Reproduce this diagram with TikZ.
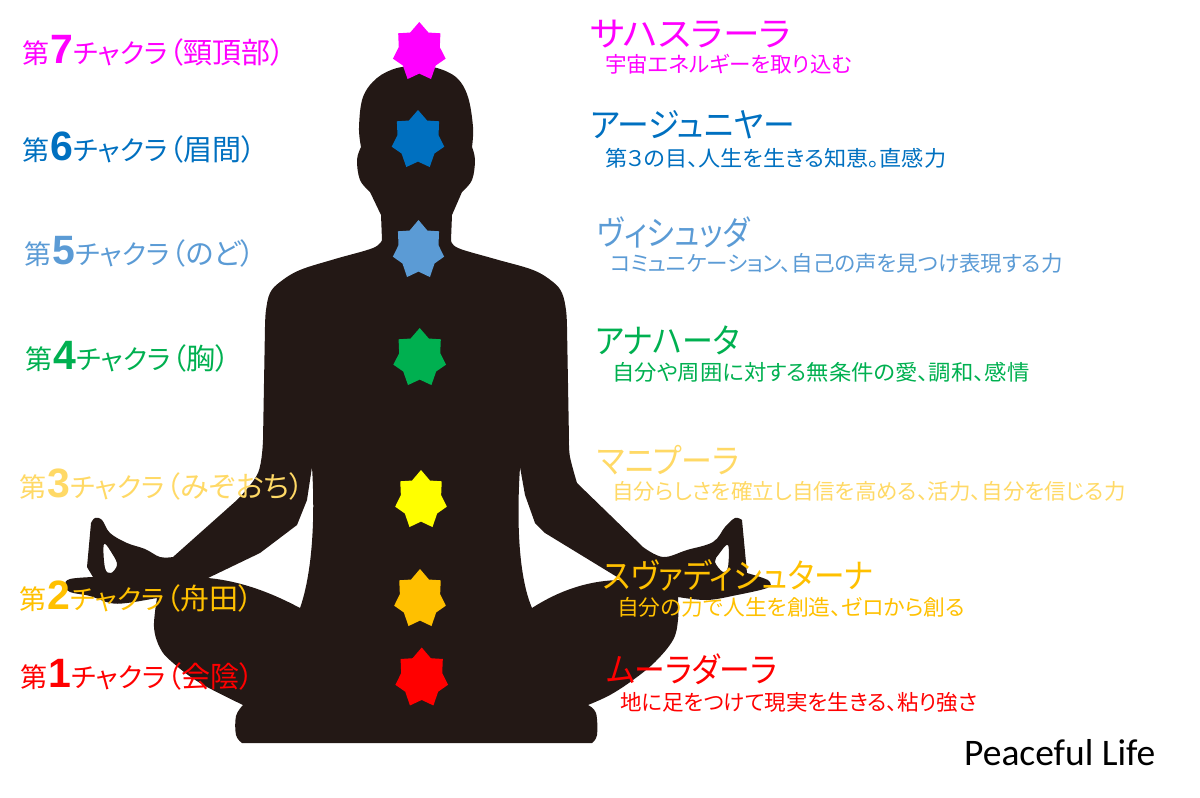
\documentclass[tikz,border=0pt]{standalone}
\usepackage{graphicx}
\usepackage{fontspec}
\setmainfont[RawFeature=+palt]{Noto Sans CJK JP}
\newfontfamily\latinface{Carlito}
\newfontfamily\digitface{Liberation Sans}
\definecolor{silh}{HTML}{231815}
\definecolor{cmag}{HTML}{FF00FF}
\definecolor{cblue}{HTML}{0070C0}
\definecolor{clblue}{HTML}{5B9BD5}
\definecolor{cgreen}{HTML}{00B050}
\definecolor{cpale}{HTML}{FFD966}
\definecolor{cyel}{HTML}{FFFF00}
\definecolor{corg}{HTML}{FFC000}
\definecolor{cred}{HTML}{FF0000}
\newcommand\chakra[5]{%
\begin{scope}[shift={(#1,#2)},x=#3pt,y=#4pt]
\fill[#5] (90:1)--(115.71:.78 and .72)--(141.43:1)--(167.14:.78 and .72)--(192.86:1)--(218.57:.78 and .72)--(244.29:1)--(270:.78 and .72)--(295.71:1)--(321.43:.78 and .72)--(347.14:1)--(12.86:.78 and .72)--(38.57:1)--(64.29:.78 and .72)--cycle;
\end{scope}}
\newcommand\bigdigit[1]{\hspace{1pt}{\digitface\fontsize{41}{41}\selectfont\bfseries #1}}
\newcommand\parenpart[1]{\hspace{1.5pt}{\fontsize{29}{29}\selectfont（#1）}}
\newcommand\stretchw[2]{\scalebox{#1}[1]{#2}}
\tikzset{
  lefttext/.style={anchor=base west,inner sep=0pt,font=\fontsize{27}{27}\selectfont},
  titletext/.style={anchor=base west,inner sep=0pt,font=\fontsize{34}{34}\selectfont},
  subtext/.style={anchor=base west,inner sep=0pt,font=\fontsize{21.5}{21.5}\selectfont}
}
\begin{document}
\begin{tikzpicture}[x=1pt,y=-1pt]
\useasboundingbox (0,0) rectangle (1200,798);
% silhouette
\fill[silh,even odd rule]
 plot[smooth,tension=.6] coordinates {(361,147)(359,127)(363,97)(377,78)(397,68)(417,66.5)(437,68)(457,78)(468,97)(473,127)(472,147)}
 -- plot[smooth,tension=.6] coordinates {(472,147)(475,160)(472,180)(462,192)}
 -- (452,215) -- (451,240)
 -- plot[smooth,tension=.6] coordinates {(451,240)(458,248)(495,259)(533,270)(553,282)(562,293)(566,310)(567,327)}
 -- (569,440)
 -- plot[smooth,tension=.6] coordinates {(569,440)(570,457)(577,483)}
 -- (643,547)
 -- plot[smooth,tension=.6] coordinates {(643,547)(663,557)(687,550)(713,542)(725,527)(735,518)(742,520)}
 -- (747,573)
 -- plot[smooth,tension=.6] coordinates {(747,573)(763,578)(770,582)(767,588)(737,595)(707,600)(678,597)}
 -- plot[smooth,tension=.6] coordinates {(678,597)(678,620)(673,640)(655,662)(633,680)(610,695)(588,705)}
 -- plot[smooth,tension=.6] coordinates {(588,705)(596,713)(597,735)(592,743)}
 -- (242,743)
 -- plot[smooth,tension=.6] coordinates {(242,743)(236,735)(236,716)(243,705)}
 -- plot[smooth,tension=.6] coordinates {(243,705)(200,683)(172,662)(160,648)(154,627)(157,598)}
 -- plot[smooth,tension=.6] coordinates {(157,598)(127,603)(110,603)(90,596)(70,592)(65,585)(70,579)(93,577)}
 -- (87,567) -- (91,523)
 -- plot[smooth,tension=.6] coordinates {(91,523)(95,518)(102,520)(110,533)(127,543)(145,549)(160,557)(173,557)}
 -- (237,500)
 -- plot[smooth,tension=.6] coordinates {(237,500)(258,473)(263,440)}
 -- (265,327)
 -- plot[smooth,tension=.6] coordinates {(265,327)(266,310)(270,293)(280,282)(300,270)(335,259)(373,248)(382,240)}
 -- (381,215) -- (370,192)
 -- plot[smooth,tension=.6] coordinates {(370,192)(360,180)(357,160)(361,147)}
 -- cycle
 % left gap
 (312,467) -- (307,500) -- (297,525) -- (260,553) -- (208,578)
 .. controls (240,581) and (270,592) .. (300,608)
 .. controls (310,580) and (316,530) .. (312,467) -- cycle
 % right gap
 (520,467) -- (525,495) -- (535,523) -- (545,533) -- (622,580)
 .. controls (590,580) and (560,590) .. (532,608)
 .. controls (520,580) and (516,530) .. (520,467) -- cycle
 % finger holes
 plot[smooth cycle,tension=.6] coordinates {(104,544)(113,555)(117,565)(111,573)(105,568)}
 plot[smooth cycle,tension=.6] coordinates {(728,545)(719,554)(715,562)(723,572)(728,567)};
% chakras
\chakra{419.3}{52}{27}{30}{cmag}
\chakra{418}{140}{27}{30}{cblue}
\chakra{418.5}{250}{26.3}{30}{clblue}
\chakra{419.7}{358}{27}{30}{cgreen}
\chakra{421}{500}{26.5}{30}{cyel}
\chakra{420}{599}{26.5}{30}{corg}
\chakra{421.7}{678}{27}{30.5}{cred}
% left labels
\node[lefttext,text=cmag]   (l7) at (22.5,63.5)  {第\bigdigit{7}チャクラ\parenpart{頸頂部}};
\node[lefttext,text=cblue]  (l6) at (22.5,160.5) {第\bigdigit{6}チャクラ\parenpart{眉間}};
\node[lefttext,text=clblue] (l5) at (24.5,264.5) {第\bigdigit{5}チャクラ\parenpart{のど}};
\node[lefttext,text=cgreen] (l4) at (25.5,369.5) {第\bigdigit{4}チャクラ\parenpart{胸}};
\node[lefttext,text=cpale]  (l3) at (19.5,497.5) {第\bigdigit{3}チャクラ\parenpart{みぞおち}};
\node[lefttext,text=corg]   (l2) at (19.5,609.5) {第\bigdigit{2}チャクラ\parenpart{舟田}};
\node[lefttext,text=cred]   (l1) at (20.5,687.5) {第\bigdigit{1}チャクラ\parenpart{会陰}};
% right titles
\node[titletext,text=cmag]   (t7) at (590,46)  {\stretchw{1.08}{サハスラーラ}};
\node[titletext,text=cblue]  (t6) at (590,137) {\stretchw{.935}{アージュニヤー}};
\node[titletext,text=clblue] (t5) at (597,245) {\stretchw{.87}{ヴィシュッダ}};
\node[titletext,text=cgreen] (t4) at (595,353) {\stretchw{.91}{アナハータ}};
\node[titletext,text=cpale]  (t3) at (597,473) {\stretchw{.91}{マニプーラ}};
\node[titletext,text=corg]   (t2) at (603,588) {\stretchw{.9}{スヴァディシュターナ}};
\node[titletext,text=cred]   (t1) at (606,682) {\stretchw{.905}{ムーラダーラ}};
% right descriptions
\node[subtext,text=cmag]   (s7) at (605,72)  {宇宙エネルギーを取り込む};
\node[subtext,text=cblue]  (s6) at (605,166) {\stretchw{1.03}{第３の目、人生を生きる知恵。直感力}};
\node[subtext,text=clblue] (s5) at (610,271) {コミュニケーション、自己の声を見つけ表現する力};
\node[subtext,text=cgreen] (s4) at (612,380) {\stretchw{1.04}{自分や周囲に対する無条件の愛、調和、感情}};
\node[subtext,text=cpale]  (s3) at (612,499) {自分らしさを確立し自信を高める、活力、自分を信じる力};
\node[subtext,text=corg]   (s2) at (617,615) {\stretchw{1.012}{自分の力で人生を創造、ゼロから創る}};
\node[subtext,text=cred]   (s1) at (620,710) {地に足をつけて現実を生きる、粘り強さ};
\node[anchor=base west,inner sep=0pt,text=black,font=\latinface\fontsize{37.5}{37.5}\selectfont] (brand) at (964,765) {Peaceful Life};
\end{tikzpicture}
\end{document}
